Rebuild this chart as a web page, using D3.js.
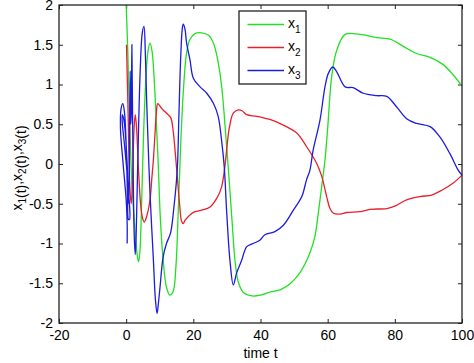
<!DOCTYPE html>
<html>
<head>
<meta charset="utf-8">
<script src="https://cdn.jsdelivr.net/npm/d3@7"></script>
<style>
  body { margin: 0; background: #fff; }
  svg text { font-family: "Liberation Sans", Arial, sans-serif; fill: #000; }
</style>
</head>
<body>
<svg id="chart" width="474" height="363"></svg>
<script>
// x1 (green)
var t1 = [0, 0.5, 1.0, 1.7, 2.7, 3.3, 3.7, 4.1, 4.6, 5.2, 5.9, 6.5, 7.1, 7.7, 8.3, 8.9, 9.5, 10.2, 11, 12, 13, 14, 14.8, 15.5, 16.2, 17, 18, 19, 20.5, 22.5, 24.5, 26, 27.3, 28.5, 29.5, 30.5, 31.5, 32.5, 33.5, 35, 37.5, 40, 43, 46, 49, 52, 54.7, 56.2, 57.2, 58.2, 59.2, 60, 61.2, 62.7, 65.2, 69.6, 74.6, 78.6, 82.5, 86.5, 90.5, 94.4, 97.4, 100];
var x1 = [2.0, 1.4, 0.6, -0.24, -0.87, -1.15, -1.23, -1.1, -0.5, 0.4, 1.1, 1.42, 1.52, 1.42, 1.1, 0.6, 0.05, -0.7, -1.2, -1.55, -1.65, -1.6, -1.3, -0.6, 0.2, 0.9, 1.4, 1.57, 1.64, 1.65, 1.62, 1.52, 1.3, 0.95, 0.45, -0.1, -0.7, -1.25, -1.5, -1.62, -1.66, -1.65, -1.61, -1.58, -1.5, -1.35, -1.12, -0.91, -0.62, -0.29, 0.05, 0.45, 1.1, 1.43, 1.63, 1.63, 1.59, 1.57, 1.48, 1.39, 1.34, 1.25, 1.12, 0.98];

// x2 (red)
var t2 = [0.1, 0.6, 1.1, 1.5, 1.9, 2.3, 2.7, 3.1, 3.7, 4.4, 5.0, 5.4, 6.1, 7.1, 7.6, 8.1, 8.6, 9.0, 9.4, 10.2, 11, 12.5, 13.3, 13.9, 14.5, 15.2, 15.9, 16.5, 17, 17.5, 19, 20.5, 22.5, 25, 27, 28.4, 29.4, 30.1, 30.7, 31.9, 33.4, 34.5, 35.9, 38.9, 42.8, 46.8, 50.8, 53.7, 56.7, 58.2, 59.7, 60.7, 61.7, 63.7, 65.7, 69.6, 72.6, 77.6, 80.5, 83.5, 87.5, 91, 94, 97.4, 100];
var x2 = [1.5, 0.6, -0.3, -0.5, -0.2, 0.4, 0.62, 0.45, -0.1, -0.55, -0.7, -0.73, -0.66, -0.45, -0.2, 0.05, 0.39, 0.65, 0.76, 0.72, 0.68, 0.62, 0.58, 0.45, 0.2, -0.15, -0.5, -0.72, -0.75, -0.71, -0.64, -0.6, -0.58, -0.54, -0.43, -0.29, -0.03, 0.25, 0.45, 0.64, 0.68, 0.67, 0.62, 0.6, 0.56, 0.49, 0.39, 0.22, 0.01, -0.15, -0.41, -0.56, -0.62, -0.63, -0.61, -0.6, -0.57, -0.56, -0.52, -0.45, -0.41, -0.39, -0.33, -0.24, -0.14];

// x3 (blue)
var t3 = [0.3, 0.3, 0.0, -0.9, -1.7, -1.5, -1.0, -0.5, 0.0, 0.4, 0.7, 1.0, 0.6, -0.4, -1.2, -1.1, -0.5, 0.3, 0.8, 1.0, 1.2, 1.35, 1.5, 1.7, 2.0, 2.4, 2.7, 3.0, 3.5, 4.2, 4.8, 5.3, 5.7, 6.1, 6.6, 7.1, 8.1, 8.7, 9.2, 9.6, 10.1, 11, 12, 13.2, 14.2, 15.2, 15.7, 16.2, 16.7, 17, 17.5, 18, 19, 20, 22, 24, 26, 27.4, 28.4, 29.2, 29.9, 30.9, 31.9, 32.9, 34.4, 35.9, 37.8, 39.8, 41.3, 44.3, 46.8, 49.8, 52.3, 53.7, 54.7, 55.7, 57.7, 59.2, 60.2, 61.5, 62.7, 65.2, 67.6, 70.6, 74.6, 77.6, 80.5, 83.5, 86.5, 90.5, 93.4, 96.4, 98.9, 100];
var x3 = [-1.0, -0.75, -0.45, 0.0, 0.45, 0.7, 0.76, 0.65, 0.25, -0.4, -0.7, -0.7, -0.3, 0.2, 0.55, 0.62, 0.5, 0.0, -0.5, 0.3, 1.17, 0.5, 0.6, 1.5, 0.2, -0.9, -1.14, -0.85, 0.1, 1.2, 1.65, 1.73, 1.4, 0.8, 0.18, -0.37, -1.2, -1.7, -1.88, -1.75, -1.54, -1.17, -1.0, -0.87, -0.55, -0.08, 0.6, 1.3, 1.7, 1.76, 1.7, 1.52, 1.31, 1.08, 0.97, 0.89, 0.76, 0.6, 0.3, -0.03, -0.58, -1.21, -1.52, -1.37, -1.21, -1.04, -1.0, -0.96, -0.89, -0.85, -0.77, -0.58, -0.41, -0.2, -0.08, 0.18, 0.55, 0.97, 1.14, 1.22, 1.16, 0.97, 0.96, 0.89, 0.86, 0.85, 0.72, 0.57, 0.51, 0.47, 0.34, 0.13, -0.08, -0.14];

var xTicks = [-20, 0, 20, 40, 60, 80, 100];
var yTicks = [-2, -1.5, -1, -0.5, 0, 0.5, 1, 1.5, 2];
var seriesNames = ["1", "2", "3"];
var seriesColors = ["#22e022", "#e8202a", "#1c1ce0"];

var svg = d3.select('#chart');
var mLeft = 59, mRight = 462, mTop = 5, mBottom = 323;

var x = d3.scaleLinear().domain([-20, 100]).range([mLeft, mRight]);
var y = d3.scaleLinear().domain([-2, 2]).range([mBottom, mTop]);

var fmt = function(d) { return String(d); };

// axes, ticks pointing inward like matlab
svg.append('g').attr('transform', 'translate(0,' + mBottom + ')')
  .call(d3.axisBottom(x).tickValues(xTicks).tickFormat(fmt).tickSizeInner(-4).tickSizeOuter(0).tickPadding(7));
svg.append('g').attr('transform', 'translate(0,' + mTop + ')')
  .call(d3.axisTop(x).tickValues(xTicks).tickFormat('').tickSizeInner(-4).tickSizeOuter(0));
svg.append('g').attr('transform', 'translate(' + mLeft + ',0)')
  .call(d3.axisLeft(y).tickValues(yTicks).tickFormat(fmt).tickSizeInner(-4).tickSizeOuter(0).tickPadding(6));
svg.append('g').attr('transform', 'translate(' + mRight + ',0)')
  .call(d3.axisRight(y).tickValues(yTicks).tickFormat('').tickSizeInner(-4).tickSizeOuter(0));

svg.selectAll('.domain').remove();
svg.selectAll('.tick line').attr('stroke', '#222');
svg.selectAll('.tick text').style('font-size', '14px').attr('fill', '#000');

// lines
var line = d3.line()
  .x(function(d) { return x(d[0]); })
  .y(function(d) { return y(d[1]); })
  .curve(d3.curveCatmullRom.alpha(0.5));

var series = [d3.zip(t1, x1), d3.zip(t2, x2), d3.zip(t3, x3)];

svg.append('g')
  .selectAll('path')
  .data(series)
  .enter()
  .append('path')
  .attr('d', line)
  .attr('fill', 'none')
  .attr('stroke', function(d, i) { return seriesColors[i]; })
  .attr('stroke-width', 1.3);

// box
svg.append('rect')
  .attr('x', mLeft).attr('y', mTop)
  .attr('width', mRight - mLeft).attr('height', mBottom - mTop)
  .attr('fill', 'none').attr('stroke', '#222').attr('stroke-width', 1.3);

// legend
var lg = svg.append('g').attr('transform', 'translate(239,11)');
lg.append('rect').attr('width', 67).attr('height', 73)
  .attr('fill', '#fff').attr('stroke', '#222').attr('stroke-width', 1.3);
var items = lg.selectAll('.item')
  .data(seriesNames)
  .enter()
  .append('g')
  .attr('transform', function(d, i) { return 'translate(0,' + (13.5 + i * 23) + ')'; });
items.each(function(d, i) {
  d3.select(this).append('line')
    .attr('x1', 8.5).attr('x2', 45)
    .attr('stroke', seriesColors[i])
    .attr('stroke-width', 1.3);
});
var lt = items.append('text').attr('x', 49).attr('y', 3).style('font-size', '14px');
lt.append('tspan').text('x');
lt.append('tspan').attr('dy', 5).style('font-size', '10px').text(function(d) { return d; });

// axis labels
svg.append('text')
  .attr('x', (mLeft + mRight) / 2).attr('y', 358)
  .attr('text-anchor', 'middle')
  .style('font-size', '14px')
  .text('time t');

var yl = svg.append('text')
  .attr('transform', 'translate(22,' + ((mTop + mBottom) / 2 + 4) + ') rotate(-90)')
  .attr('text-anchor', 'middle')
  .style('font-size', '14px');
seriesNames.forEach(function(n, i) {
  yl.append('tspan').attr('dy', i === 0 ? 0 : -4).text((i === 0 ? '' : ',') + 'x');
  yl.append('tspan').attr('dy', 4).style('font-size', '10px').text(n);
  yl.append('tspan').text('(t)');
});
</script>
</body>
</html>
